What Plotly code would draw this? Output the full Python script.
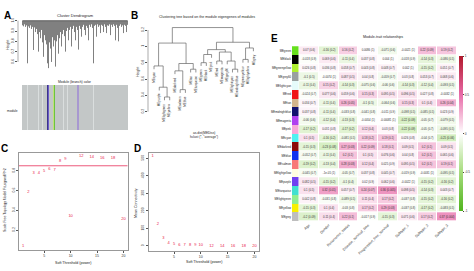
import plotly.graph_objects as go

W, H = 474, 271
FONT = "Liberation Sans, Arial, sans-serif"

# ---------------- data ----------------
# Panel A: gene dendrogram, simplified to one merge height per leaf
gene_leaf_heights = [
    0.955, 0.945, 0.965, 0.94, 0.955, 0.587, 0.945, 0.93, 0.955, 0.92,
    0.94, 0.716, 0.935, 0.89, 0.92, 0.87, 0.70, 0.89, 0.83, 0.91,
    0.79, 0.65, 0.86, 0.81, 0.77, 0.587, 0.54, 0.79, 0.73, 0.60,
    0.84, 0.75, 0.81, 0.555, 0.80, 0.86, 0.68, 0.83, 0.89, 0.75,
    0.87, 0.91, 0.85, 0.70, 0.90, 0.93, 0.81, 0.91, 0.94, 0.75,
    0.92, 0.95, 0.89, 0.81, 0.94, 0.91, 0.72, 0.95, 0.92, 0.845,
    0.94, 0.96, 0.91, 0.86, 0.95, 0.93, 0.81, 0.96, 0.94, 0.965,
    0.93, 0.587, 0.95, 0.96, 0.845, 0.965, 0.94, 0.955, 0.88, 0.96,
    0.95, 0.89, 0.965, 0.94, 0.88, 0.955, 0.95, 0.965, 0.86, 0.96,
    0.94, 0.965, 0.95, 0.81, 0.96, 0.93, 0.80, 0.95, 0.965, 0.94,
    0.955, 0.88, 0.96, 0.95, 0.89, 0.96,
]
gene_tree_top = 1.0
gene_module_colors = (["grey"] * 5 + ["light"] + ["grey"] * 10 + ["light"] + ["grey"] * 3
                      + ["light"] + ["grey"] * 4 + ["midnightblue", "slateblue"] + ["grey"] * 4
                      + ["greenyellow", "green"] + ["grey"] * 8 + ["light"] + ["grey"] * 3
                      + ["light"] + ["grey"] * 9 + ["lavender", "lavender"] + ["grey"] * 14
                      + ["light"] + ["grey"] * 34)
module_palette = {"grey": "#c3c7c7", "light": "#dadede", "midnightblue": "#3c348a",
                  "slateblue": "#6a5ac8", "greenyellow": "#bfe27a", "green": "#6cc240",
                  "lavender": "#a898d0"}

# Panel B: eigengene clustering tree (height, left, right)
me_tree = (1.23,
           (1.04,
            (0.76, "MEcyan", (0.50, "MEpurple", (0.38, "MElightgreen", "MEyellow"))),
            (0.79, (0.70, "MEdarkred", (0.47, "MEsalmon", "MEblue")),
             (0.72, "MEtan", "MEturquoise"))),
           (1.05,
            (0.96, (0.90, (0.80, "MEgreen", "MEblack"), "MEpink"),
             (0.93, (0.82, "MEred", "MEmagenta"),
              (0.82, "MEgrey60", (0.72, "MElightcyan", "MEmidnightblue")))),
            (0.98, (0.84, "MEgreenyellow", "MElightyellow"), "MEgrey")))
me_hang = 0.04

# Panels C, D: soft threshold
powers = [1, 2, 3, 4, 5, 6, 7, 8, 9, 10, 12, 14, 16, 18, 20]
sft_r2 = [0.043, 0.58, 0.78, 0.777, 0.794, 0.817, 0.81, 0.90, 0.918, 0.34,
          0.945, 0.94, 0.925, 0.925, 0.31]
mean_k = [514, 124, 42, 14, 8, 5, 3.5, 2.5, 2, 1.5, 1, 0.7, 0.5, 0.4, 0.3]
r2_cutoff = 0.85

# Panel E: module-trait relationships
modules = ["MEgreen", "MEblack", "MEgreenyellow", "MEgrey60", "MElightcyan", "MEred", "MEtan",
           "MEmidnightblue", "MEmagenta", "MEpink", "MEcyan", "MEdarkred", "MEblue", "MEsalmon",
           "MElightyellow", "MEpurple", "MEturquoise", "MElightgreen", "MEyellow", "MEgrey"]
module_hex = ["#66e01e", "#000000", "#b0f030", "#9aa0a0", "#e6fbfb", "#f01414", "#d2b48c",
              "#10106e", "#b040f0", "#f8a8d8", "#50f0f0", "#8b0a0a", "#1030f0", "#f87878",
              "#fffde0", "#7040f0", "#40e0d0", "#90ee90", "#f8f000", "#bebebe"]
traits = ["Age", "Gender", "Recurrence_status", "Disease_survival_time",
          "Progression_free_survival", "Subtype_1", "Subtype_2", "Subtype_3"]
mt_cor = [
    [0.07, -0.16, 0.16, 0.0086, -0.071, -0.0021, 0.22, 0.19],
    [-0.018, 0.069, -0.11, 0.037, 0.004, -0.018, -0.14, -0.086],
    [0.026, 0.036, 0.058, 0.043, 0.048, 0.002, -0.15, 0.051],
    [-0.1, -0.0074, 0.087, 0.04, -0.059, 0.03, 0.053, 0.068],
    [-0.11, 0.15, -0.14, -0.075, -0.06, -0.14, -0.12, -0.093],
    [-0.024, 0.077, 0.059, 0.15, 0.095, 0.096, 0.027, -0.0032],
    [0.034, -0.11, 0.26, -0.1, -0.064, 0.15, 0.1, 0.26],
    [0.037, -0.11, -0.033, -0.041, -0.011, -0.098, -0.085, 0.023],
    [-0.06, -0.12, -0.13, -0.0054, -0.00081, -0.22, -0.05, -0.079],
    [-0.17, 0.031, -0.17, 0.12, 0.03, -0.22, -0.05, -0.095],
    [0.1, -0.16, -0.081, 0.18, 0.19, 0.026, -0.04, -0.25],
    [-0.15, -0.23, 0.27, 0.22, 0.18, 0.09, 0.2, 0.09],
    [-0.052, -0.11, 0.2, 0.1, 0.076, 0.04, 0.2, 0.065],
    [-0.19, -0.13, 0.28, 0.12, 0.025, 0.095, 0.2, 0.19],
    [-0.045, -1e-05, -0.05, 0.037, 0.045, -0.019, -0.0031, -0.095],
    [0.082, -0.15, -0.1, 0.02, 0.062, -0.0022, -0.15, -0.16],
    [0.1, 0.32, 0.057, 0.24, 0.36, 0.098, -0.14, 0.043],
    [0.042, -0.031, -0.089, 0.11, 0.17, -0.037, -0.15, -0.16],
    [-0.15, 0.1, -0.03, 0.17, 0.29, -0.037, -0.17, -0.083],
    [-0.2, 0.11, 0.22, -0.017, -0.15, 0.071, 0.17, 0.37],
]
mt_p = [
    [0.6, 0.2, 0.2, 1, 0.6, 1, 0.09, 0.2],
    [0.9, 0.6, 0.4, 0.8, 1, 0.9, 0.3, 0.5],
    [0.8, 0.8, 0.7, 0.8, 0.7, 1, 0.2, 0.7],
    [0.5, 1, 0.5, 0.8, 0.7, 0.8, 0.7, 0.6],
    [0.4, 0.2, 0.3, 0.6, 0.6, 0.3, 0.4, 0.5],
    [0.7, 0.6, 0.6, 0.3, 0.5, 0.5, 0.8, 1],
    [0.7, 0.4, 0.05, 0.5, 0.6, 0.3, 0.4, 0.04],
    [0.8, 0.4, 0.8, 0.8, 0.9, 0.5, 0.5, 0.9],
    [0.6, 0.4, 0.3, 1, 1, 0.09, 0.7, 0.5],
    [0.2, 0.8, 0.2, 0.4, 0.8, 0.09, 0.7, 0.5],
    [0.5, 0.2, 0.5, 0.2, 0.1, 0.8, 0.7, 0.06],
    [0.3, 0.08, 0.03, 0.09, 0.1, 0.5, 0.1, 0.5],
    [0.7, 0.4, 0.1, 0.5, 0.6, 0.8, 0.1, 0.6],
    [0.2, 0.4, 0.03, 0.4, 0.9, 0.5, 0.1, 0.1],
    [0.7, 1, 0.7, 0.8, 0.7, 0.9, 1, 0.5],
    [0.5, 0.2, 0.4, 0.9, 0.6, 1, 0.2, 0.2],
    [0.5, 0.01, 0.7, 0.07, 0.005, 0.5, 0.3, 0.7],
    [0.8, 0.8, 0.5, 0.4, 0.2, 0.8, 0.2, 0.2],
    [0.3, 0.4, 0.8, 0.2, 0.03, 0.8, 0.2, 0.5],
    [0.09, 0.4, 0.1, 0.9, 0.3, 0.6, 0.2, 0.004],
]

# ---------------- helpers ----------------
def xd(a, b):
    return [a / W, b / W]

def yd(top, bottom):
    return [1 - bottom / H, 1 - top / H]

def px(x):
    return x / W

def py(y):
    return 1 - y / H

fig = go.Figure()
annos = []
shapes = []

def txt(x, y, s, size=3.5, angle=0, xa="center", ya="middle", bold=False, color="#222"):
    annos.append(dict(x=px(x), y=py(y), xref="paper", yref="paper", text=f"<b>{s}</b>" if bold else s,
                      showarrow=False, textangle=angle, xanchor=xa, yanchor=ya,
                      font=dict(family=FONT, size=size, color=color)))

tick_font = dict(family=FONT, size=3.5, color="#333")

# ---------------- Panel A ----------------
dx, dy = [], []
for i, h in enumerate(gene_leaf_heights):
    dx += [i, i, None]
    dy += [h, gene_tree_top, None]
dx += [0, len(gene_leaf_heights) - 1]
dy += [gene_tree_top, gene_tree_top]
fig.add_trace(go.Scatter(x=dx, y=dy, mode="lines", line=dict(color="#2a2a2a", width=0.6),
                         xaxis="x", yaxis="y", hoverinfo="skip"))
fig.add_trace(go.Bar(x=list(range(len(gene_module_colors))), y=[1] * len(gene_module_colors),
                     width=1, marker=dict(color=[module_palette[c] for c in gene_module_colors],
                                          line=dict(width=0)),
                     xaxis="x2", yaxis="y2", hoverinfo="skip"))

# ---------------- Panel B ----------------
bx, by, leaves = [], [], []

def build(node):
    if isinstance(node, str):
        leaf = {"name": node, "x": len(leaves), "y": None}
        leaves.append(leaf)
        return leaf["x"], None, leaf
    h, l, r = node
    xl, hl, lfl = build(l)
    xr, hr, lfr = build(r)
    if hl is None:
        hl = h - me_hang
        lfl["y"] = hl
    if hr is None:
        hr = h - me_hang
        lfr["y"] = hr
    bx.extend([xl, xl, xr, xr, None])
    by.extend([hl, h, h, hr, None])
    return (xl + xr) / 2, h, None

build(me_tree)
fig.add_trace(go.Scatter(x=bx, y=by, mode="lines", line=dict(color="#666", width=0.7),
                         xaxis="x3", yaxis="y3", hoverinfo="skip"))
for lf in leaves:
    annos.append(dict(x=lf["x"], y=lf["y"], xref="x3", yref="y3", text=lf["name"], showarrow=False,
                      textangle=-90, xanchor="center", yanchor="top", yshift=-1,
                      font=dict(family=FONT, size=3, color="#333")))

# ---------------- Panel C ----------------
fig.add_trace(go.Scatter(x=powers, y=sft_r2, mode="text", text=[str(p) for p in powers],
                         textfont=dict(family=FONT, size=4, color="#e8204a"), cliponaxis=False,
                         xaxis="x5", yaxis="y5", hoverinfo="skip"))
shapes.append(dict(type="line", xref="x5 domain", yref="y5", x0=0, x1=1, y0=r2_cutoff, y1=r2_cutoff,
                   line=dict(color="#e8305a", width=0.8)))

# ---------------- Panel D ----------------
fig.add_trace(go.Scatter(x=powers, y=mean_k, mode="text", text=[str(p) for p in powers],
                         textfont=dict(family=FONT, size=4, color="#e8204a"), cliponaxis=False,
                         xaxis="x6", yaxis="y6", hoverinfo="skip"))

# ---------------- Panel E ----------------
cell_text = [[f"{format(v, '.2g')} ({format(p, '.1g')})" for v, p in zip(rv, rp)]
             for rv, rp in zip(mt_cor, mt_p)]
colorscale = [[0.0, "#50b41e"], [0.25, "#a6dc7c"], [0.5, "#ffffff"], [0.75, "#e86aa8"],
              [1.0, "#b2182b"]]
fig.add_trace(go.Heatmap(z=mt_cor, x=traits, y=modules, zmin=-1, zmax=1, colorscale=colorscale,
                         text=cell_text, texttemplate="%{text}",
                         textfont=dict(family=FONT, size=2.8, color="#333"),
                         xgap=1, ygap=1, xaxis="x7", yaxis="y7", hoverinfo="skip",
                         colorbar=dict(x=px(459), xanchor="left", y=py(133.5), yanchor="middle",
                                       len=155 / H, lenmode="fraction", thickness=3.5,
                                       thicknessmode="pixels", outlinewidth=0, xpad=0, ypad=0,
                                       tickvals=[-1, -0.5, 0, 0.5, 1],
                                       ticktext=["-1", "-0.5", "0", "0.5", "1"],
                                       ticks="outside", ticklen=1.5, tickwidth=0.5,
                                       tickfont=dict(family=FONT, size=3.2, color="#333"))))
fig.add_trace(go.Bar(x=[1] * len(modules), y=modules, orientation="h", width=1,
                     marker=dict(color=module_hex, line=dict(width=0)),
                     xaxis="x8", yaxis="y8", hoverinfo="skip"))

# ---------------- axes ----------------
hid = dict(visible=False, showgrid=False, zeroline=False)
ybase = dict(showgrid=False, zeroline=False, ticks="outside", ticklen=2, tickwidth=0.5,
             tickcolor="#555", tickfont=tick_font, tickangle=-90, showline=False)
box = dict(showgrid=False, zeroline=False, showline=True, mirror=True, linecolor="#999",
           linewidth=0.7, ticks="outside", ticklen=2, tickwidth=0.5, tickcolor="#555",
           tickfont=tick_font)

fig.update_layout(
    width=W, height=H, margin=dict(l=0, r=0, t=0, b=0), paper_bgcolor="white",
    plot_bgcolor="white", showlegend=False, bargap=0, font=dict(family=FONT),
    xaxis=dict(domain=xd(18, 128), range=[-4.5, 105.5], anchor="y", **hid),
    yaxis=dict(domain=yd(19, 70), range=[0.522, 1.0165], tickvals=[0.6, 0.7, 0.8, 0.9, 1.0],
               ticktext=["0.6", "0.7", "0.8", "0.9", "1.0"], anchor="x", **ybase),
    xaxis2=dict(domain=xd(22, 128), range=[-0.5, 105.5], anchor="y2", **hid),
    yaxis2=dict(domain=yd(85, 130), range=[0, 1], anchor="x2", **hid),
    xaxis3=dict(domain=xd(148, 258), range=[-1.15, 19.88], anchor="y3", **hid),
    yaxis3=dict(domain=yd(24, 118), range=[0.1229, 1.2734], tickvals=[0.2, 0.4, 0.6, 0.8, 1.0, 1.2],
                anchor="x3", **ybase),
    xaxis5=dict(domain=xd(19, 127.5), range=[0.24, 20.76], tickvals=[5, 10, 15, 20], anchor="y5",
                **box),
    yaxis5=dict(domain=yd(153.3, 250), range=[-0.001, 0.976], tickvals=[0.2, 0.4, 0.6, 0.8],
                tickangle=-90, anchor="x5", **box),
    xaxis6=dict(domain=xd(148.5, 258.5), range=[0.24, 20.76], tickvals=[5, 10, 15, 20], anchor="y6",
                **box),
    yaxis6=dict(domain=yd(152.7, 250.7), range=[-28.6, 532], tickvals=[0, 100, 200, 300, 400, 500],
                tickangle=-90, anchor="x6", **box),
    xaxis7=dict(domain=xd(299, 457), range=[-0.5, 7.5], anchor="y7", showgrid=False, zeroline=False,
                tickangle=-45, ticks="", tickfont=dict(family=FONT, size=3.6, color="#333")),
    yaxis7=dict(domain=yd(46.3, 221.4), range=[19.5, -0.5], anchor="x7", showgrid=False,
                zeroline=False, showticklabels=False, ticks=""),
    xaxis8=dict(domain=xd(292, 298.5), range=[0, 1], anchor="y8", **hid),
    yaxis8=dict(domain=yd(46.3, 221.4), range=[19.5, -0.5], anchor="x8", showgrid=False,
                zeroline=False, ticks="", tickfont=dict(family=FONT, size=2.8, color="#222")),
)

# R-style axis lines (first to last tick)
shapes.append(dict(type="line", xref="x domain", yref="y", x0=0, x1=0, y0=0.6, y1=1.0,
                   line=dict(color="#555", width=0.5)))
shapes.append(dict(type="line", xref="x3 domain", yref="y3", x0=0, x1=0, y0=0.2, y1=1.2,
                   line=dict(color="#555", width=0.5)))

# ---------------- text ----------------
txt(7, 16, "A", size=10, bold=True, color="#000")
txt(134.5, 16, "B", size=10, bold=True, color="#000")
txt(4.5, 148, "C", size=10, bold=True, color="#000")
txt(137.5, 148.5, "D", size=10, bold=True, color="#000")
txt(274, 38, "E", size=10, bold=True, color="#000")

txt(75, 16, "Cluster Dendrogram", size=4)
txt(8, 45, "Height", size=3.5, angle=-90)
txt(75, 82, "Module (branch) color", size=3.4)
txt(20, 111, "module", size=3.2, xa="right")

txt(207, 17, "Clustering tree based on the module eigengenes of modules", size=3.6)
txt(138, 72, "Height", size=3.5, angle=-90)
txt(204, 133, "as.dist(MEDiss)", size=3.2)
txt(204, 137, "hclust (*, \"average\")", size=3.2)

txt(73, 263, "Soft Threshold (power)", size=3.6)
txt(5, 200, "Scale Free Topology Model Fit,signed R^2", size=3.4, angle=-90)
txt(204, 262, "Soft Threshold (power)", size=3.6)
txt(136, 203, "Mean Connectivity", size=3.6, angle=-90)

txt(382.5, 37.3, "Module-trait relationships", size=3.6)

fig.update_layout(annotations=annos, shapes=shapes)
fig.write_html("out.html")
